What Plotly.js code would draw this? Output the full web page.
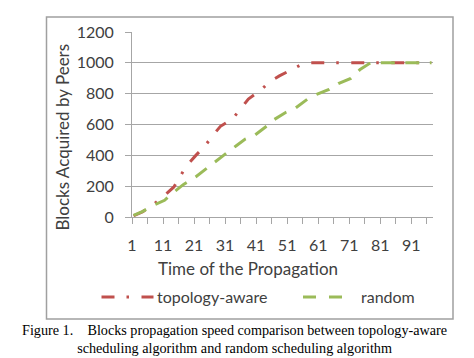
<!DOCTYPE html>
<html><head><meta charset="utf-8">
<script src="https://cdn.plot.ly/plotly-3.0.1.min.js"></script>
<style>html,body{margin:0;padding:0;background:#fff}#chart{width:474px;height:358px}</style>
</head><body><div id="chart"></div>
<script>
// ---- data ----
const seriesNames = ['topology-aware', 'random'];
const topoX = [1, 4, 7, 9, 11, 14, 16, 18, 21, 24, 27, 29, 33, 36, 38, 42, 45, 48, 52, 56, 57, 60, 65, 70, 75, 80, 85, 90, 97];
const topoY = [8, 35, 75, 105, 141, 195, 262, 330, 398, 461, 540, 588, 639, 712, 765, 823, 880, 915, 957, 998, 1000, 1000, 1000, 1000, 1000, 1000, 1000, 1000, 1000];
const randX = [1, 4, 7, 11, 14, 17, 21, 24, 27, 30, 34, 37, 40, 44, 46, 50, 53, 57, 60, 64, 67, 71, 74, 77, 78, 80, 85, 90, 97];
const randY = [10, 37, 72, 108, 162, 210, 260, 308, 355, 400, 461, 505, 530, 591, 628, 678, 704, 764, 795, 827, 866, 899, 957, 995, 1000, 1000, 1000, 1000, 1000];
const yTickVals = [0, 200, 400, 600, 800, 1000, 1200];
const xTickLabels = ['1', '11', '21', '31', '41', '51', '61', '71', '81', '91'];
const xTitle = 'Time of the Propagation';
const yTitle = 'Blocks Acquired by Peers';
const captionLines = ['Figure 1.\u00a0\u00a0\u00a0\u00a0Blocks propagation speed comparison between topology-aware',
                      'scheduling algorithm and random scheduling algorithm'];

// ---- styling ----
const RED = '#C0504D', GREEN = '#9BBB59', TXT = '#404040', GRID = '#a6a6a6';
const RED_DASH = '13px,12px,2.5px,12.5px';
const GREEN_DASH = '14px,10.5px';
const FONT = 'Lato, "Open Sans", sans-serif';

// plot area in pixels
const L = 132, R = 433, T = 32, B = 217;
const px2x = p => (p - L) / (R - L);
const py2y = p => (B - p) / (B - T);

// x tick marks every 5 categories, labels every 10
const xTickVals = [], xTickText = [];
for (let k = 0; k < 20; k++) {
  xTickVals.push(0.5 + 5 * k);
  xTickText.push(k % 2 === 0 ? xTickLabels[k / 2] : '');
}

const traces = [
  {x: topoX, y: topoY, name: seriesNames[0], type: 'scatter', mode: 'lines',
   line: {color: RED, width: 3, dash: RED_DASH}, showlegend: false},
  {x: randX, y: randY, name: seriesNames[1], type: 'scatter', mode: 'lines',
   line: {color: GREEN, width: 3, dash: GREEN_DASH}, showlegend: false}
];

const layout = {
  width: 474, height: 358,
  margin: {l: L, r: 474 - R, t: T, b: 358 - B, pad: 0},
  paper_bgcolor: '#fff', plot_bgcolor: '#fff',
  font: {family: FONT, color: TXT, size: 16},
  xaxis: {
    range: [0.5, 97.5], tickmode: 'array', tickvals: xTickVals, ticktext: xTickText,
    showgrid: false, zeroline: false, showline: true, linecolor: GRID, linewidth: 1,
    ticks: 'outside', ticklen: 6, tickcolor: GRID, tickwidth: 1, ticklabelstandoff: 8,
    tickfont: {family: FONT, size: 16, color: TXT}, fixedrange: true
  },
  yaxis: {
    range: [0, 1200], tickmode: 'array', tickvals: yTickVals,
    showgrid: true, gridcolor: GRID, gridwidth: 1, zeroline: false,
    showline: true, linecolor: GRID, linewidth: 1,
    ticks: 'outside', ticklen: 6, tickcolor: GRID, tickwidth: 1, ticklabelstandoff: 8,
    tickfont: {family: FONT, size: 16, color: TXT}, fixedrange: true
  },
  shapes: [
    {type: 'rect', xref: 'paper', yref: 'paper', layer: 'below',
     x0: px2x(46.5), x1: px2x(453), y0: py2y(319), y1: py2y(17),
     line: {color: '#a0a0a0', width: 1.5}, fillcolor: 'rgba(0,0,0,0)'},
    {type: 'line', xref: 'paper', yref: 'paper', x0: px2x(101.5), x1: px2x(153.5), y0: py2y(297), y1: py2y(297),
     line: {color: RED, width: 3, dash: RED_DASH}},
    {type: 'line', xref: 'paper', yref: 'paper', x0: px2x(303), x1: px2x(342), y0: py2y(297), y1: py2y(297),
     line: {color: GREEN, width: 3, dash: '13px,13px'}}
  ],
  annotations: [
    {text: yTitle, xref: 'paper', yref: 'paper', x: px2x(62), y: py2y(137.5), textangle: -90,
     showarrow: false, xanchor: 'center', yanchor: 'middle', font: {family: FONT, size: 17, color: TXT}},
    {text: xTitle, xref: 'paper', yref: 'paper', x: px2x(248), y: py2y(268),
     showarrow: false, xanchor: 'center', yanchor: 'middle', font: {family: FONT, size: 17, color: TXT}},
    {text: seriesNames[0], xref: 'paper', yref: 'paper', x: px2x(155), y: py2y(296),
     showarrow: false, xanchor: 'left', yanchor: 'middle', font: {family: FONT, size: 16, color: TXT}},
    {text: seriesNames[1], xref: 'paper', yref: 'paper', x: px2x(359), y: py2y(296),
     showarrow: false, xanchor: 'left', yanchor: 'middle', font: {family: FONT, size: 16, color: TXT}},
    {text: captionLines.join('<br>'), xref: 'paper', yref: 'paper', x: px2x(234), y: py2y(339),
     showarrow: false, xanchor: 'center', yanchor: 'middle', align: 'center',
     font: {family: '"Liberation Serif", serif', size: 14.2, color: '#000'}}
  ]
};

Plotly.newPlot('chart', traces, layout, {staticPlot: true, displayModeBar: false});
</script>
</body></html>
